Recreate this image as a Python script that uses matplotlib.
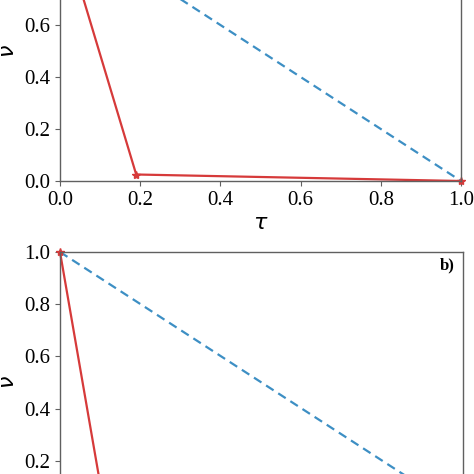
import numpy as np
import matplotlib
matplotlib.use("Agg")
import matplotlib.pyplot as plt
from matplotlib import font_manager

# make sure a Times-like serif is available
for f in font_manager.findSystemFonts():
    if 'LiberationSerif' in f.replace(' ', '').replace('-', ''):
        font_manager.fontManager.addfont(f)
serif_names = sorted({e.name for e in font_manager.fontManager.ttflist if 'Liberation Serif' in e.name})
plt.rcParams['font.family'] = serif_names[:1] + ['DejaVu Serif']
plt.rcParams['mathtext.fontset'] = 'dejavusans'

# panel a (top, cropped)
tau_a = [0.0, 0.19, 1.0]
nu_a = [1.0, 0.025, 0.0]
# panel b (bottom, cropped)
tau_b = [0.0, 0.11, 1.0]
nu_b = [1.0, 0.02, 0.0]
# reference line nu = 1 - tau
tau_ref = [0.0, 1.0]
nu_ref = [1.0, 0.0]

ticks = [0.0, 0.2, 0.4, 0.6, 0.8, 1.0]
red = '#d63a3a'
blue = '#3d8fc4'
spine = '#606060'

fig = plt.figure(figsize=(4.74, 4.74), dpi=100)
W = 474.0
ax1 = fig.add_axes([60 / W, 293 / W, 401 / W, 260 / W])
ax2 = fig.add_axes([60 / W, -39 / W, 403 / W, 261 / W])

for ax, t, n in [(ax1, tau_a, nu_a), (ax2, tau_b, nu_b)]:
    ax.plot(tau_ref, nu_ref, '--', color=blue, lw=1.6, dashes=(4, 2.5))
    ax.plot(t, n, '-', color=red, lw=1.6, marker='*', ms=6, clip_on=False)
    ax.set_xlim(0, 1)
    ax.set_ylim(0, 1)
    ax.set_xticks(ticks)
    ax.set_yticks(ticks)
    ax.tick_params(labelsize=15, color=spine)
    for s in ax.spines.values():
        s.set_color(spine)
        s.set_linewidth(1.0)
    ax.set_ylabel(r'$\nu$', fontsize=16, labelpad=4)

ax1.set_xlabel(r'$\tau$', fontsize=16, labelpad=4)
ax2.text(0.98, 0.95, 'b)', transform=ax2.transAxes, ha='right', va='center',
         fontsize=12, fontweight='bold')

fig.savefig('out.png', dpi=100)
